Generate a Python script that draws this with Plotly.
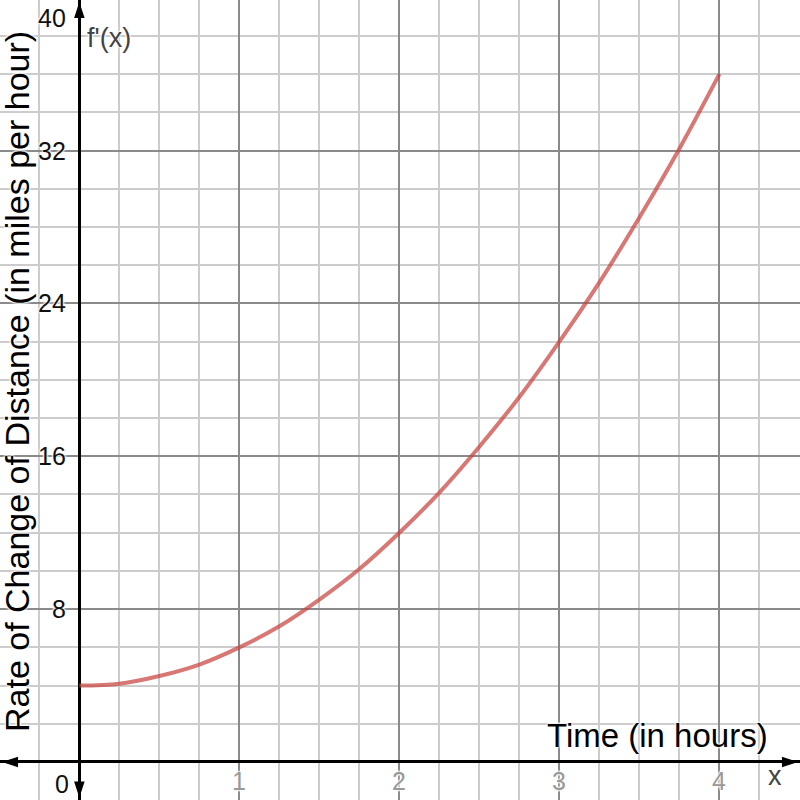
import plotly.graph_objects as go

# values (rate of change, mph) at each time (hours)
time_hours = [0, 0.25, 0.5, 0.75, 1, 1.25, 1.5, 1.75, 2,
              2.25, 2.5, 2.75, 3, 3.25, 3.5, 3.75, 4]
rate_mph = [4, 4.1, 4.5, 5.1, 6, 7.1, 8.5, 10.1, 12,
            14.1, 16.5, 19.1, 22, 25.1, 28.5, 32.1, 36]

x_ticks = [1, 2, 3, 4]
y_ticks = [8, 16, 24, 32, 40]

X_RANGE = [-0.496, 4.504]
Y_RANGE = [-1.99, 39.88]

FONT = "Arial, Liberation Sans, sans-serif"
HALO = "0 0 2px white, 0 0 2px white, 0 0 3px white, 0 0 3px white"

fig = go.Figure()

fig.add_trace(go.Scatter(
    x=time_hours, y=rate_mph, mode="lines",
    line=dict(color="rgba(199,68,64,0.72)", width=4, shape="spline"),
    hoverinfo="skip", showlegend=False,
))

# axis arrowheads (tip sits at marker centre for the "arrow" symbol)
fig.add_trace(go.Scatter(
    x=[0, 0, X_RANGE[0] + 0.012, X_RANGE[1] - 0.012],
    y=[Y_RANGE[1] - 0.1, Y_RANGE[0] + 0.12, 0, 0],
    mode="markers",
    marker=dict(symbol="arrow", size=17, color="black",
                angle=[0, 180, -90, 90], line=dict(width=0)),
    hoverinfo="skip", showlegend=False,
))

ann = []
for v in y_ticks:
    ann.append(dict(x=-0.07, y=min(v, Y_RANGE[1] - 0.95), xref="x", yref="y",
                    text=str(v), showarrow=False, xanchor="right", yanchor="middle",
                    font=dict(family=FONT, size=25, color="#111", shadow=HALO)))
for v in x_ticks:
    ann.append(dict(x=v, y=-1.0, xref="x", yref="y", text=str(v),
                    showarrow=False, xanchor="center", yanchor="middle",
                    font=dict(family=FONT, size=25, color="#999", shadow=HALO)))
ann.append(dict(x=-0.108, y=-1.15, xref="x", yref="y", text="0", showarrow=False,
                xanchor="center", yanchor="middle",
                font=dict(family=FONT, size=25, color="#111", shadow=HALO)))

ann.append(dict(x=85 / 800, y=1 - 38 / 800, xref="paper", yref="paper", text="f'(x)",
                showarrow=False, xanchor="left", yanchor="middle",
                font=dict(family=FONT, size=27, color="#444", shadow=HALO)))
ann.append(dict(x=775 / 800, y=1 - 776 / 800, xref="paper", yref="paper", text="x",
                showarrow=False, xanchor="center", yanchor="middle",
                font=dict(family=FONT, size=27, color="#444", shadow=HALO)))
ann.append(dict(x=657 / 800, y=1 - 735 / 800, xref="paper", yref="paper",
                text="Time (in hours)", showarrow=False, xanchor="center", yanchor="middle",
                font=dict(family=FONT, size=33, color="black", shadow=HALO)))
ann.append(dict(x=17 / 800, y=1 - 382 / 800, xref="paper", yref="paper",
                text="Rate of Change of Distance (in miles per hour)", textangle=-90,
                showarrow=False, xanchor="center", yanchor="middle",
                font=dict(family=FONT, size=34, color="black", shadow=HALO)))

fig.update_layout(
    width=800, height=800,
    margin=dict(l=0, r=0, t=0, b=0),
    paper_bgcolor="white", plot_bgcolor="white",
    annotations=ann,
    xaxis=dict(range=X_RANGE, tick0=0, dtick=1, showticklabels=False, ticks="",
               showgrid=True, gridcolor="#8a8a8a", gridwidth=1.5,
               minor=dict(dtick=0.25, showgrid=True, gridcolor="#cccccc", gridwidth=1.5),
               zeroline=True, zerolinecolor="black", zerolinewidth=2.5, fixedrange=True),
    yaxis=dict(range=Y_RANGE, tick0=0, dtick=8, showticklabels=False, ticks="",
               showgrid=True, gridcolor="#8a8a8a", gridwidth=1.5,
               minor=dict(dtick=2, showgrid=True, gridcolor="#cccccc", gridwidth=1.5),
               zeroline=True, zerolinecolor="black", zerolinewidth=2.5, fixedrange=True),
)

# page margin would push the 800x800 figure off the window edge
fig.write_html("out.html", config={"displayModeBar": False},
               post_script="document.body.style.margin='0';")
